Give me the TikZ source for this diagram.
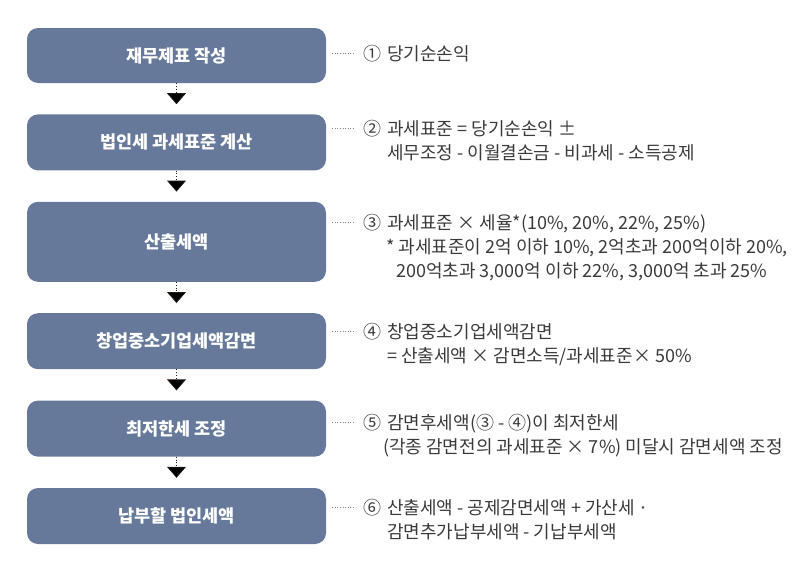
\documentclass[tikz,border=0pt]{standalone}
\usepackage{fontspec}
\setmainfont{Noto Sans CJK KR}
\usetikzlibrary{positioning,arrows.meta}
\definecolor{boxblue}{HTML}{66799A}
\definecolor{notegray}{HTML}{3A3A3A}
\definecolor{tipblack}{HTML}{231815}

\begin{document}
\begin{tikzpicture}[x=1pt,y=-1pt,node distance=31pt,
  stepbox/.style={rectangle,rounded corners=11pt,fill=boxblue,text=white,
    font=\fontsize{17.5}{20}\selectfont\bfseries,minimum width=299pt,minimum height=56pt},
  note/.style={anchor=base west,inner sep=0pt,text=notegray,font=\fontsize{18}{24}\selectfont},
  num/.style={anchor=base east,inner xsep=5pt,inner ysep=0pt,text=notegray,font=\fontsize{18}{24}\selectfont},
  flow/.style={dotted,line width=0.8pt,draw=tipblack,-{Triangle[width=19pt,length=11pt]},shorten >=10pt},
  link/.style={dotted,line width=0.6pt,draw=gray,shorten <=6pt,shorten >=4pt}]
  \useasboundingbox (0,0) rectangle (804,565);

  % steps
  \node[stepbox,minimum height=55pt] (b1) at (176.5,55.5) {재무제표 작성};
  \node[stepbox,below=of b1] (b2) {법인세 과세표준 계산};
  \node[stepbox,below=of b2,minimum height=80pt] (b3) {산출세액};
  \node[stepbox,below=of b3] (b4) {창업중소기업세액감면};
  \node[stepbox,below=of b4] (b5) {최저한세 조정};
  \node[stepbox,below=of b5] (b6) {납부할 법인세액};
  \path[flow]
    (b1) edge (b2)
    (b2) edge (b3)
    (b3) edge (b4)
    (b4) edge (b5)
    (b5) edge (b6);

  % notes
  \node[note] (t1) at (387,60.5) {당기순손익};
  \node[note] (t2) at (387,135.5) {\begin{tabular}[t]{@{}l@{}}과세표준 = 당기순손익 ±\\세무조정 - 이월결손금 - 비과세 - 소득공제\end{tabular}};
  \node[note] (t3) at (387,229.5) {\begin{tabular}[t]{@{}l@{}}과세표준 × 세율*(10\%, 20\%, 22\%, 25\%)\\\hspace{-1pt}* 과세표준이 2억 이하 10\%, 2억초과 200억이하 20\%,\\\hspace{9pt}200억초과 3,000억 이하 22\%, 3,000억 초과 25\%\end{tabular}};
  \node[note] (t4) at (387,338.5) {\begin{tabular}[t]{@{}l@{}}창업중소기업세액감면\\= 산출세액 × 감면소득/과세표준× 50\%\end{tabular}};
  \node[note] (t5) at (387,429.5) {\begin{tabular}[t]{@{}l@{}}감면후세액(③ - ④)이 최저한세\\\hspace{-4pt}(각종 감면전의 과세표준 × 7\%) 미달시 감면세액 조정\end{tabular}};
  \node[note] (t6) at (387,514.5) {\begin{tabular}[t]{@{}l@{}}산출세액 - 공제감면세액 + 가산세 ·\\감면추가납부세액 - 기납부세액\end{tabular}};
  \node[num] (n1) at (t1.base west) {①};
  \node[num] (n2) at (t2.base west) {②};
  \node[num] (n3) at (t3.base west) {③};
  \node[num] (n4) at (t4.base west) {④};
  \node[num] (n5) at (t5.base west) {⑤};
  \node[num] (n6) at (t6.base west) {⑥};
  \foreach \i in {1,...,6}
    \draw[link] (b\i.east |- n\i) -- (n\i.west);
\end{tikzpicture}
\end{document}
